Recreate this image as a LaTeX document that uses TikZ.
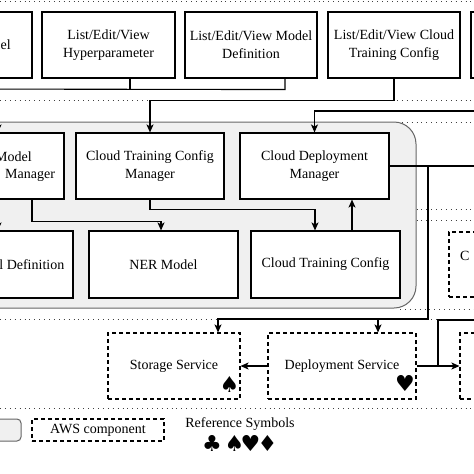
\documentclass[tikz,border=0pt]{standalone}
\usepackage{fontspec}
\setmainfont{Liberation Serif}
\newfontfamily\suitfont{DejaVu Sans}
\usetikzlibrary{arrows.meta}
\begin{document}
\begin{tikzpicture}[x=1pt,y=-1pt,
  lbl/.style={font=\fontsize{14}{18}\selectfont, align=center, inner sep=0pt},
  box/.style={draw=black, line width=1.1pt, fill=white, inner sep=0pt, align=center,
              minimum height=66pt, font=\fontsize{14}{18}\selectfont},
  aws/.style={box, dash pattern=on 4pt off 3pt},
  conn/.style={line width=1.1pt},
  arr/.style={conn, -{Stealth[length=8pt,width=7pt,inset=2pt]}},
  lane/.style={black!75, line width=0.9pt, dash pattern=on 0.9pt off 4pt},
  suit/.style={font=\suitfont\fontsize{22}{22}\selectfont, inner sep=0pt},
  grp/.style={draw=black!60, fill=black!6, line width=1pt}]
\path[use as bounding box, clip] (0,0) rectangle (474,474);
\fill[white] (0,0) rectangle (474,474);
% swimlane separators
\foreach \yy in {1,100,122,209,220,319,408} \draw[lane] (0,\yy) -- (474,\yy);
\draw[lane] (400,309) -- (474,309);
% container
\draw[grp, rounded corners=22pt] (-30,122) rectangle (416,308);
% top row
\node[box, minimum width=133pt] (t1) at (-34.5,45) {};
\node[lbl, anchor=east] (t1l) at (11,45) {el};
\node[box, minimum width=133pt] (t2) at (108.5,45) {List/Edit/View\\Hyperparameter};
\node[box, minimum width=132pt] (t3) at (251,45) {List/Edit/View Model\\Definition};
\node[box, minimum width=132pt] (t4) at (394,45) {List/Edit/View Cloud\\Training Config};
\node[box, minimum width=133pt] (t5) at (537.5,45) {};
% manager row
\node[box, minimum width=148pt] (m1) at (-10,166) {};
\node[lbl, anchor=west] (m1a) at (-5,157) {Model};
\node[lbl, anchor=west] (m1b) at (5,175) {Manager};
\node[box, minimum width=148pt] (m2) at (150,166) {Cloud Training Config\\Manager};
\node[box, minimum width=149pt] (m3) at (314.5,166) {Cloud Deployment\\Manager};
% data row
\node[box, minimum width=148pt, minimum height=67pt] (d1) at (-1,264.5) {};
\node[lbl, anchor=east] (d1l) at (64.5,265) {l Definition};
\node[box, minimum width=149pt, minimum height=67pt] (d2) at (163.5,264.5) {NER Model};
\node[box, minimum width=149pt, minimum height=67pt] (d3) at (325.5,264.5) {Cloud Training Config};
% right column
\node[aws, minimum width=132pt, minimum height=65pt] (c1) at (515,264.5) {};
\node[lbl, anchor=west] (c1l) at (460,256) {C};
% AWS row
\node[aws, minimum width=132pt] (st) at (174,366) {Storage Service};
\node[suit] (sp1) at (229.5,384) {♠};
\node[aws, minimum width=148pt] (dp) at (342,366) {Deployment Service};
\node[suit] (he1) at (405,383) {♥};
\node[aws, minimum width=132pt] (rb) at (526,366) {};
% connectors
\coordinate (jl) at (-60,89);
\draw[conn] ([xshift=34pt]t3.south) -- ++(0,11) -- (jl);
\draw[conn] ([xshift=21.5pt]t2.south) -- ++(0,11);
\draw[arr] (t4.south) -- ++(0,22) -| (m2.north);
\coordinate (rin1) at (490,111);
\draw[arr] (rin1) -| (m3.north);
\coordinate (lin1) at (-2,116);
\draw[arr] (lin1) -- (lin1 |- m1.north);
\coordinate (lin2) at (-2,214);
\draw[arr] (lin2) -- (lin2 |- d1.north);
\draw[arr] ([xshift=42pt]m1.south) -- ++(0,22) -| ([xshift=-2.5pt]d2.north);
\draw[arr] (m2.south) -- ++(0,10) -| ([xshift=-10.5pt]d3.north);
\draw[arr] ([xshift=26.5pt]d3.north) -- ([xshift=26.5pt]d3.north |- m3.south);
\coordinate (rout1) at (490,166);
\draw[conn] (m3.east) -- (rout1);
\coordinate (j1) at (428,166);
\draw[arr] (j1) -- (428,319) -| ([xshift=44pt]st.north);
\coordinate (j2) at (378,319);
\draw[arr] (j2) -- (j2 |- dp.north);
\coordinate (rin2) at (490,320);
\coordinate (j3) at (438,320);
\draw[conn] (rin2) -- (j3) -- (j3 |- dp.east);
\draw[arr] (dp.east) -- (rb.west);
\draw[arr] (dp.west) -- (st.east);
% legend
\node[grp, rounded corners=4pt, minimum width=122pt, minimum height=22pt] (lg1) at (-40,430) {};
\node[aws, minimum width=132pt, minimum height=22pt] (lg2) at (98,430) {AWS component};
\node[lbl] (ref) at (240,424) {Reference Symbols};
\node[suit] (s1) at (212,443) {♣};
\node[suit] (s2) at (234.5,443) {♠};
\node[suit] (s3) at (250.5,443) {♥};
\node[suit] (s4) at (267.5,443) {♦};
\end{tikzpicture}
\end{document}
